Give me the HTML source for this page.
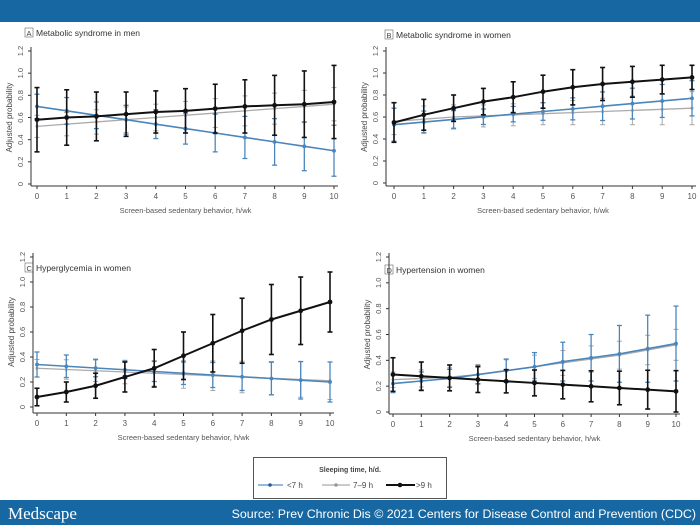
<!DOCTYPE html>
<html><head><meta charset="utf-8"><style>
body{margin:0;width:700px;height:525px;overflow:hidden;background:#fff;font-family:"Liberation Sans",sans-serif}
</style></head><body>
<svg id="s" width="700" height="525" xmlns="http://www.w3.org/2000/svg" font-family="Liberation Sans, sans-serif">
<rect x="0" y="0" width="700" height="22" fill="#1768a2"/>
<rect x="0" y="500" width="700" height="25" fill="#1768a2"/>
<text x="8" y="519" font-family="Liberation Serif, serif" font-size="17" fill="#fff">Medscape</text>
<text x="696" y="518" font-size="12.4" fill="#fff" text-anchor="end">Source: Prev Chronic Dis © 2021 Centers for Disease Control and Prevention (CDC)</text>
<rect x="253.5" y="457.5" width="193" height="41" fill="#fff" stroke="#555" stroke-width="1"/>
<text x="350" y="472" font-size="7" fill="#444" text-anchor="middle" font-weight="bold">Sleeping time, h/d.</text>
<line x1="258" y1="485" x2="283" y2="485" stroke="#5a8fc0" stroke-width="1.2"/><circle cx="270" cy="485" r="1.8" fill="#2a5a90"/>
<text x="287" y="488" font-size="8" fill="#444">&lt;7 h</text>
<line x1="322" y1="485" x2="350" y2="485" stroke="#aaa" stroke-width="1.2"/><circle cx="336" cy="485" r="1.8" fill="#999"/>
<text x="353" y="488" font-size="8" fill="#444">7–9 h</text>
<line x1="386" y1="485" x2="415" y2="485" stroke="#111" stroke-width="2"/><circle cx="400" cy="485" r="2.3" fill="#111"/>
<text x="416" y="488" font-size="8" fill="#444">&gt;9 h</text>
</svg>
<script>
var s=document.getElementById('s'),NS='http://www.w3.org/2000/svg';
function el(t,a,txt){var e=document.createElementNS(NS,t);for(var k in a)e.setAttribute(k,a[k]);if(txt!=null)e.textContent=txt;s.appendChild(e);return e;}
function lin(a,b){var r=[];for(var i=0;i<=10;i++)r.push(a+(b-a)*i/10);return r;}
var P=[
{ax:31,x0:37,x1:334,y0:184,y12:51,bot:186,title:"Metabolic syndrome in men",L:"A",tx:25,ty:36,
 s:[[lin(0.52,0.72),lin(0.1,0.15),'#aaa',1.3],
    [lin(0.70,0.30),[0.11,0.12,0.12,0.13,0.13,0.14,0.17,0.19,0.21,0.22,0.23],'#4a85bb',1.6],
    [[0.58,0.60,0.61,0.63,0.65,0.66,0.68,0.70,0.71,0.72,0.74],[0.29,0.25,0.22,0.2,0.19,0.2,0.22,0.24,0.27,0.3,0.33],'#111',2]]},
{ax:386,x0:394,x1:692,y0:183,y12:51,bot:186,title:"Metabolic syndrome in women",L:"B",tx:385,ty:38,
 s:[[[0.56,0.58,0.6,0.61,0.62,0.63,0.64,0.65,0.66,0.67,0.68],[0.12,0.12,0.11,0.1,0.1,0.1,0.11,0.12,0.13,0.14,0.15],'#aaa',1.3],
    [lin(0.53,0.77),[0.15,0.1,0.08,0.07,0.07,0.08,0.1,0.13,0.14,0.15,0.16],'#4a85bb',1.6],
    [[0.55,0.62,0.68,0.74,0.78,0.83,0.87,0.90,0.92,0.94,0.96],[0.18,0.14,0.12,0.12,0.14,0.15,0.16,0.15,0.14,0.13,0.11],'#111',2]]},
{ax:33,x0:37,x1:330,y0:407,y12:257,bot:413,title:"Hyperglycemia in women",L:"C",tx:25,ty:271,
 s:[[lin(0.31,0.21),lin(0.07,0.15),'#aaa',1.3],
    [lin(0.34,0.20),[0.1,0.09,0.07,0.07,0.08,0.09,0.1,0.11,0.13,0.15,0.16],'#4a85bb',1.6],
    [[0.08,0.12,0.17,0.24,0.31,0.41,0.51,0.61,0.70,0.77,0.84],[0.07,0.08,0.1,0.12,0.15,0.19,0.23,0.26,0.28,0.27,0.24],'#111',2]]},
{ax:389,x0:393,x1:676,y0:412,y12:257,bot:414,title:"Hypertension in women",L:"D",tx:385,ty:273,
 s:[[[0.25,0.26,0.27,0.29,0.32,0.35,0.38,0.41,0.44,0.48,0.52],lin(0.06,0.12),'#aaa',1.3],
    [[0.22,0.24,0.26,0.29,0.32,0.35,0.39,0.42,0.45,0.49,0.53],[0.07,0.07,0.07,0.07,0.09,0.11,0.15,0.18,0.22,0.26,0.29],'#4a85bb',1.6],
    [lin(0.29,0.16),[0.13,0.11,0.1,0.1,0.09,0.1,0.11,0.12,0.13,0.15,0.16],'#111',2]]}
];
P.forEach(function(p){
 var sy=(p.y0-p.y12)/1.2, dx=(p.x1-p.x0)/10;
 function Y(v){return p.y0-v*sy;} function X(i){return p.x0+i*dx;}
 el('rect',{x:p.tx,y:p.ty-8,width:8,height:9,fill:'none',stroke:'#666','stroke-width':0.6});
 el('text',{x:p.tx+1.5,y:p.ty,'font-size':7.5,fill:'#444'},p.L);
 el('text',{x:p.tx+11,y:p.ty,'font-size':8.5,fill:'#333'},p.title);
 el('line',{x1:p.ax,y1:p.y12-4,x2:p.ax,y2:p.bot,stroke:'#333','stroke-width':1});
 el('line',{x1:p.ax,y1:p.bot,x2:p.x1+4,y2:p.bot,stroke:'#333','stroke-width':1});
 for(var k=0;k<=6;k++){var v=k*0.2,y=Y(v);
  el('line',{x1:p.ax-3,y1:y,x2:p.ax,y2:y,stroke:'#333'});
  var lab=k==0?'0':v.toFixed(1);
  el('text',{x:p.ax-8,y:y,'font-size':7.5,fill:'#555','text-anchor':'middle',transform:'rotate(-90 '+(p.ax-8)+' '+y+')',dy:'0'},lab);}
 for(var i=0;i<=10;i++){el('line',{x1:X(i),y1:p.bot,x2:X(i),y2:p.bot+3,stroke:'#333'});
  el('text',{x:X(i),y:p.bot+13,'font-size':8,fill:'#555','text-anchor':'middle'},String(i));}
 el('text',{x:(p.x0+p.x1)/2,y:p.bot+27,'font-size':7.5,fill:'#555','text-anchor':'middle'},'Screen-based sedentary behavior, h/wk');
 var cy=(p.y0+p.y12)/2;
 el('text',{x:p.ax-19,y:cy,'font-size':8,fill:'#444','text-anchor':'middle',transform:'rotate(-90 '+(p.ax-19)+' '+cy+')'},'Adjusted probability');
 p.s.forEach(function(se){
  var m=se[0],e=se[1],c=se[2],w=se[3],pts=[];
  for(var i=0;i<=10;i++){var x=X(i),a=Y(m[i]+e[i]),b=Y(m[i]-e[i]);pts.push(x+','+Y(m[i]));
   el('line',{x1:x,y1:a,x2:x,y2:b,stroke:c,'stroke-width':w*0.8});
   el('line',{x1:x-2.5,y1:a,x2:x+2.5,y2:a,stroke:c,'stroke-width':w*0.8});
   el('line',{x1:x-2.5,y1:b,x2:x+2.5,y2:b,stroke:c,'stroke-width':w*0.8});}
  el('polyline',{points:pts.join(' '),fill:'none',stroke:c,'stroke-width':w});
  for(var i=0;i<=10;i++)el('circle',{cx:X(i),cy:Y(m[i]),r:w*1.2,fill:c});
 });
});
</script>
</body></html>
